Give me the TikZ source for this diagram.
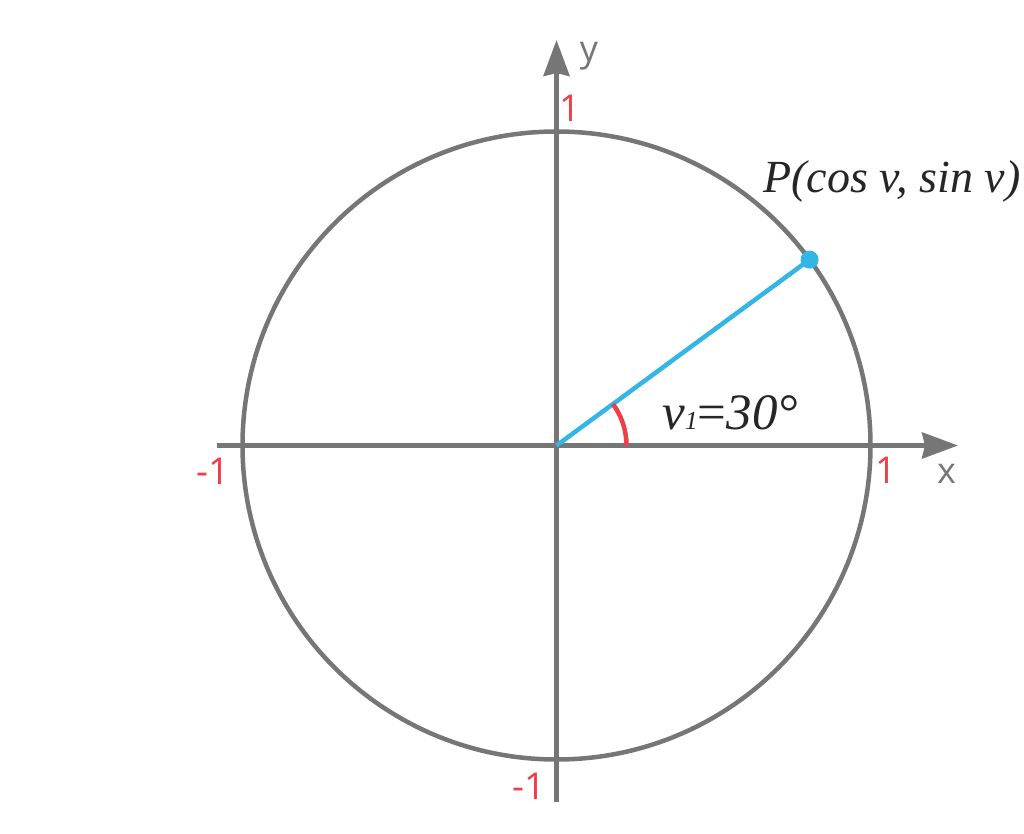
\documentclass[tikz,border=0pt]{standalone}
\usepackage{fontspec}
\setmainfont{Liberation Serif}
\newfontfamily\lblfont{Open Sans}
\usetikzlibrary{arrows.meta}
\definecolor{axisgray}{RGB}{118,118,118}
\definecolor{lblred}{RGB}{238,62,72}
\definecolor{rayblue}{RGB}{51,181,229}
\tikzset{
  axisline/.style={draw=axisgray, line width=4.5pt, -{Stealth[length=36pt, width=26pt, inset=3pt]}},
  circleline/.style={draw=axisgray, line width=4.5pt},
  rayline/.style={draw=rayblue, line width=4.5pt},
  anglearc/.style={draw=lblred, line width=4.5pt},
  ticklbl/.style={text=lblred, inner sep=0pt, font=\lblfont\fontsize{37}{37}\selectfont},
  axislbl/.style={text=axisgray, inner sep=0pt, font=\lblfont\fontsize{36}{36}\selectfont},
  mathlbl/.style={text=black!85, inner sep=0pt, font=\fontsize{46}{46}\selectfont\itshape}
}
\begin{document}
\begin{tikzpicture}[x=1pt, y=-1pt]
\useasboundingbox (0,0) rectangle (1024,833);
\coordinate (O) at (556.5,445.5);
\coordinate (xs) at (217,445.5);
\coordinate (xe) at (958,445.5);
\coordinate (ys) at (556.5,802);
\coordinate (ye) at (556.5,40);
\coordinate (P) at (809.6,259.6);
\coordinate (A) at (626.5,445.5);
\draw[circleline] (O) circle[radius=314pt];
\draw[axisline] (xs) -- (xe);
\draw[axisline] (ys) -- (ye);
\draw[rayline] (O) -- (P);
\fill[rayblue] (P) circle[radius=9pt];
\draw[anglearc] (A) arc[start angle=0, end angle=36.3, radius=70pt];
\node[ticklbl] (t1) at (570,108.5) {1};
\node[ticklbl] (t2) at (886,470.5) {1};
\node[ticklbl] (t3) at (213.5,471) {-1};
\node[ticklbl] (t4) at (529.5,786) {-1};
\node[axislbl, anchor=base] (ly) at (589,61) {y};
\node[axislbl] (lx) at (946.5,474) {x};
\node[mathlbl, anchor=base west] (lp) at (763,192) {P(cos v, sin v)};
\node[mathlbl, anchor=base west, font=\fontsize{51}{51}\selectfont\itshape] (lv) at (662,429) {v{\fontsize{26}{26}\selectfont 1}{\upshape=}30°};
\end{tikzpicture}
\end{document}
